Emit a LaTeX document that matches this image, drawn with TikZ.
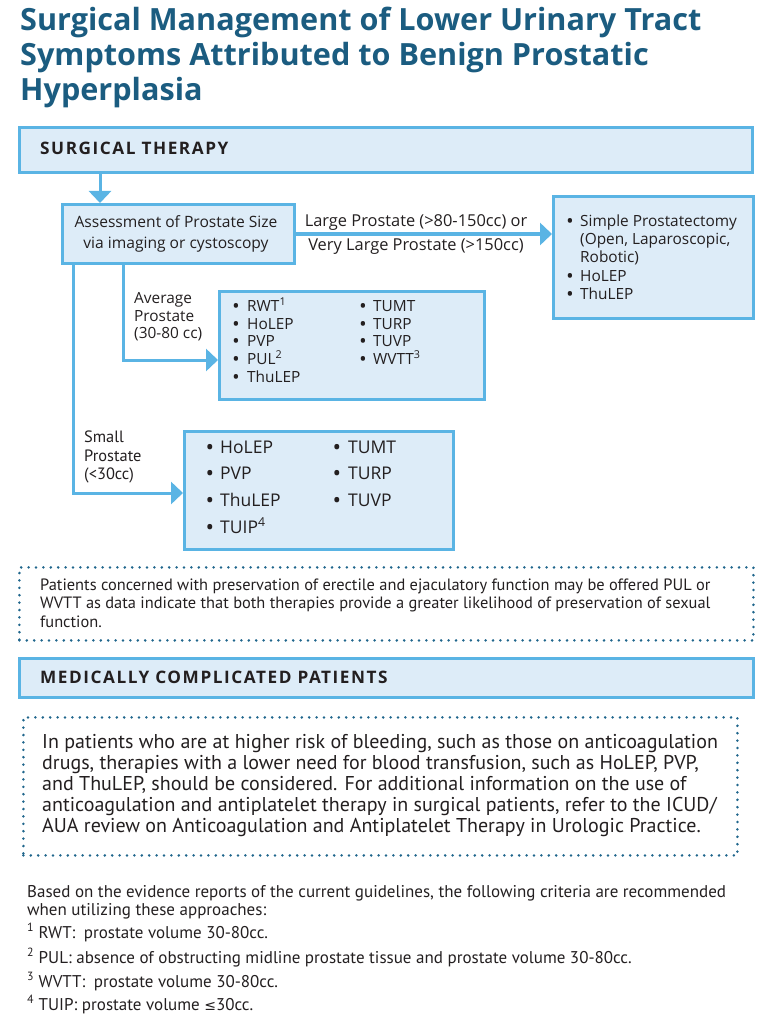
\documentclass[tikz,border=0pt]{standalone}
\usepackage{fontspec}
\setmainfont{Open Sans}
\newfontfamily\cond{PT Sans}
\newfontfamily\dejavu{DejaVu Sans}
\usetikzlibrary{arrows.meta,calc}
\definecolor{boxfill}{RGB}{221,236,248}
\definecolor{boxline}{RGB}{90,180,228}
\definecolor{ttlcol}{RGB}{27,92,128}
\definecolor{dotcol}{RGB}{32,102,140}
\definecolor{txt}{RGB}{35,31,32}
\begin{document}
\begin{tikzpicture}[x=1pt,y=-1pt,
  bluebox/.style={draw=boxline,fill=boxfill,line width=3pt,rectangle,inner sep=0pt,anchor=north west},
  dotbox/.style={draw=dotcol,line width=2.8pt,dash pattern=on 0pt off 7.4pt,line cap=round,rectangle,inner sep=0pt,anchor=north west},
  flow/.style={draw=boxline,line width=3pt,-{Triangle[length=12pt,width=22pt]}},
  ttl/.style={inner sep=0pt,anchor=base west,text=ttlcol,font=\bfseries\fontsize{30.6}{34}\selectfont},
  hdr/.style={inner sep=0pt,anchor=base west,text=txt,font=\bfseries\fontsize{17.2}{20}\selectfont\addfontfeature{LetterSpace=9}},
  lbl/.style={inner sep=0pt,anchor=base west,text=txt,font=\fontsize{15.4}{18}\selectfont},
  lblc/.style={inner sep=0pt,anchor=base,text=txt,font=\fontsize{15.6}{18}\selectfont},
  bul/.style={inner sep=0pt,anchor=base,text=txt,font=\bfseries\fontsize{15.4}{18}\selectfont},
  big/.style={inner sep=0pt,anchor=base west,text=txt,font=\fontsize{17.5}{20}\selectfont},
  bigbul/.style={inner sep=0pt,anchor=base,text=txt,font=\bfseries\fontsize{17.5}{20}\selectfont},
  cnd/.style={inner sep=0pt,anchor=base west,text=txt,font=\cond\fontsize{16.4}{19}\selectfont},
  cndf/.style={inner sep=0pt,anchor=base west,text=txt,font=\cond\fontsize{17}{19}\selectfont},
  cndl/.style={inner sep=0pt,anchor=base west,text=txt,font=\cond\fontsize{20}{22}\selectfont}]
\useasboundingbox (0,0) rectangle (768,1024);

% title
\node[ttl] (t1) at (20,31) {Surgical Management of Lower Urinary Tract};
\node[ttl] (t2) at (20,66) {Symptoms Attributed to Benign Prostatic};
\node[ttl] (t3) at (20,101) {Hyperplasia};

% boxes
\node[bluebox,minimum width=733pt,minimum height=45pt] (st) at (18,126) {};
\node[hdr] (sth) at (40,155) {SURGICAL THERAPY};
\node[bluebox,minimum width=232pt,minimum height=59pt] (as) at (61,203) {};
\node[bluebox,minimum width=200pt,minimum height=122pt] (lg) at (552,195) {};
\node[bluebox,minimum width=265pt,minimum height=108pt] (av) at (218,290) {};
\node[bluebox,minimum width=269pt,minimum height=118pt] (sm) at (183,430) {};
\node[dotbox,minimum width=734pt,minimum height=73pt] (n1) at (18,566) {};
\node[bluebox,minimum width=734pt,minimum height=39pt] (md) at (18,657) {};
\node[hdr] (mdh) at (40,683) {MEDICALLY COMPLICATED PATIENTS};
\node[dotbox,minimum width=714pt,minimum height=138pt] (n2) at (22,716) {};

% connectors
\coordinate (avin) at (218,360);
\coordinate (smin) at (183,493);
\draw[flow] ([xshift=82pt]st.south west) -- ([xshift=39pt]as.north west);
\draw[flow] (as.east) -- (as.east -| lg.west);
\draw[flow] ([xshift=62pt]as.south west) |- (avin);
\draw[flow] ([xshift=12pt]as.south west) |- (smin);

% assessment
\node[lblc] (a1) at (176,228) {Assessment of Prostate Size};
\node[lblc] (a2) at (176,248) {via imaging or cystoscopy};
\node[lblc,font=\fontsize{16.4}{19}\selectfont] (l1) at (416,226) {Large Prostate (>80-150cc) or};
\node[lblc,font=\fontsize{16.4}{19}\selectfont] (l2) at (416,251) {Very Large Prostate (>150cc)};

% large box items
\node[bul] (gb1) at (570,226) {•};
\node[lbl] (g1) at (580,226) {Simple Prostatectomy};
\node[lbl] (g2) at (580,244) {(Open, Laparoscopic,};
\node[lbl] (g3) at (580,262) {Robotic)};
\node[bul] (gb4) at (570,281) {•};
\node[lbl] (g4) at (580,281) {HoLEP};
\node[bul] (gb5) at (570,299) {•};
\node[lbl] (g5) at (580,299) {ThuLEP};

% average
\node[lbl] (v1) at (134,303) {Average};
\node[lbl] (v2) at (134,321) {Prostate};
\node[lbl] (v3) at (134,338) {(30-80 cc)};
\foreach \yy/\tt [count=\i] in {311/{RWT\textsuperscript{1}},329/{HoLEP},346/{PVP},364/{PUL\textsuperscript{2}},382/{ThuLEP}}{
  \node[bul] (avb\i) at (236,\yy) {•};
  \node[lbl] (avt\i) at (247,\yy) {\tt};
}
\foreach \yy/\tt [count=\i] in {311/{TUMT},329/{TURP},346/{TUVP},364/{WVTT\textsuperscript{3}}}{
  \node[bul] (avc\i) at (363,\yy) {•};
  \node[lbl] (avu\i) at (373,\yy) {\tt};
}

% small
\node[cnd] (s1) at (84,442) {Small};
\node[cnd] (s2) at (84,461) {Prostate};
\node[cnd] (s3) at (84,479) {(<30cc)};
\foreach \yy/\tt [count=\i] in {453/{HoLEP},479/{PVP},506/{ThuLEP},533/{TUIP\textsuperscript{4}}}{
  \node[bigbul] (smb\i) at (210,\yy) {•};
  \node[big] (smt\i) at (220,\yy) {\tt};
}
\foreach \yy/\tt [count=\i] in {453/{TUMT},479/{TURP},506/{TUVP}}{
  \node[bigbul] (smc\i) at (337,\yy) {•};
  \node[big] (smu\i) at (348,\yy) {\tt};
}

% note 1
\node[cnd] (p1) at (40,590) {Patients concerned with preservation of erectile and ejaculatory function may be offered PUL or};
\node[cnd] (p2) at (40,608) {WVTT as data indicate that both therapies provide a greater likelihood of preservation of sexual};
\node[cnd] (p3) at (40,627) {function.};

% note 2
\node[cndl] (q1) at (42,748) {In patients who are at higher risk of bleeding, such as those on anticoagulation};
\node[cndl] (q2) at (42,769) {drugs, therapies with a lower need for blood transfusion, such as HoLEP, PVP,};
\node[cndl] (q3) at (42,790) {and ThuLEP, should be considered. For additional information on the use of};
\node[cndl] (q4) at (42,811) {anticoagulation and antiplatelet therapy in surgical patients, refer to the ICUD/};
\node[cndl] (q5) at (42,832) {AUA review on Anticoagulation and Antiplatelet Therapy in Urologic Practice.};

% footnotes
\node[cndf] (f1) at (27,897) {Based on the evidence reports of the current guidelines, the following criteria are recommended};
\node[cndf] (f2) at (27,915) {when utilizing these approaches:};
\node[cndf] (f3) at (27,938) {\textsuperscript{1} RWT:\enspace prostate volume 30-80cc.};
\node[cndf] (f4) at (27,963) {\textsuperscript{2} PUL: absence of obstructing midline prostate tissue and prostate volume 30-80cc.};
\node[cndf] (f5) at (27,987) {\textsuperscript{3} WVTT:\enspace prostate volume 30-80cc.};
\node[cndf] (f6) at (27,1010) {\textsuperscript{4} TUIP: prostate volume {\dejavu\fontsize{14}{16}\selectfont ≤}30cc.};
\end{tikzpicture}
\end{document}
